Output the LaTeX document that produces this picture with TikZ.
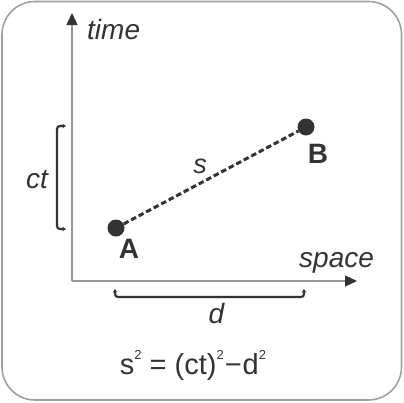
\documentclass[tikz,border=0pt]{standalone}
\usepackage{fontspec}
\setmainfont{Liberation Sans}
\usetikzlibrary{arrows.meta}
\definecolor{frame}{RGB}{160,160,160}
\definecolor{axisgray}{RGB}{150,150,150}
\definecolor{ink}{RGB}{51,51,51}
\begin{document}
\begin{tikzpicture}[x=1pt,y=-1pt,
  lbl/.style={inner sep=0pt,font=\fontsize{28}{30}\selectfont\itshape,text=ink},
  pt/.style={inner sep=0pt,font=\fontsize{28}{30}\selectfont\bfseries,text=ink},
  dot/.style={circle,fill=ink,inner sep=0pt,minimum size=17pt},
  axisline/.style={draw=axisgray,line width=1.3pt,-{Triangle[length=12pt,width=11pt,color=ink]}},
  bracket/.style={draw=ink,line width=2.2pt,rounded corners=3pt,
    {Stealth[length=3.5pt,width=4.5pt]}-{Stealth[length=3.5pt,width=4.5pt]}},
  dist/.style={draw=ink,line width=3pt,dash pattern=on 5.5pt off 3pt}]
\useasboundingbox (0,0) rectangle (404,402);
\draw[frame,line width=1.6pt,rounded corners=33pt] (2,1.5) rectangle (401.5,400);
% axes
\coordinate (O) at (72,281);
\coordinate (T) at (72,13);
\coordinate (X) at (357,281);
\draw[axisline] (O) -- (T);
\draw[axisline] (O) -- (X);
\node[lbl,anchor=base west] (time) at (87,39) {time};
\node[lbl,anchor=base west] (space) at (299,267) {space};
% events
\node[dot] (A) at (116,228) {};
\node[dot] (B) at (306,127) {};
\draw[dist] (A) -- (B);
\node[pt,anchor=base] (Alab) at (129,258) {A};
\node[pt,anchor=base] (Blab) at (318,163) {B};
\node[lbl,anchor=base,font=\fontsize{27}{30}\selectfont\itshape] (s) at (200,173) {s};
% ct bracket
\coordinate (ct1) at (66,126);
\coordinate (ct2) at (66,229);
\draw[bracket] (ct1) -- (57,126) -- (57,229) -- (ct2);
\node[lbl,anchor=base west] (ct) at (26,188) {ct};
% d bracket
\coordinate (d1) at (115,289);
\coordinate (d2) at (304,289);
\draw[bracket] (d1) -- (115,297) -- (304,297) -- (d2);
\node[lbl,anchor=base] (d) at (216.5,323) {d};
% formula
\newcommand{\sqsup}{\raisebox{0.5em}{\fontsize{13}{13}\selectfont 2}}
\node[inner sep=0pt,anchor=base,text=ink,font=\fontsize{29}{30}\selectfont] (formula) at (193,374)
  {s\sqsup\ = (ct)\sqsup\kern1pt−\kern1pt d\sqsup};
\end{tikzpicture}
\end{document}
